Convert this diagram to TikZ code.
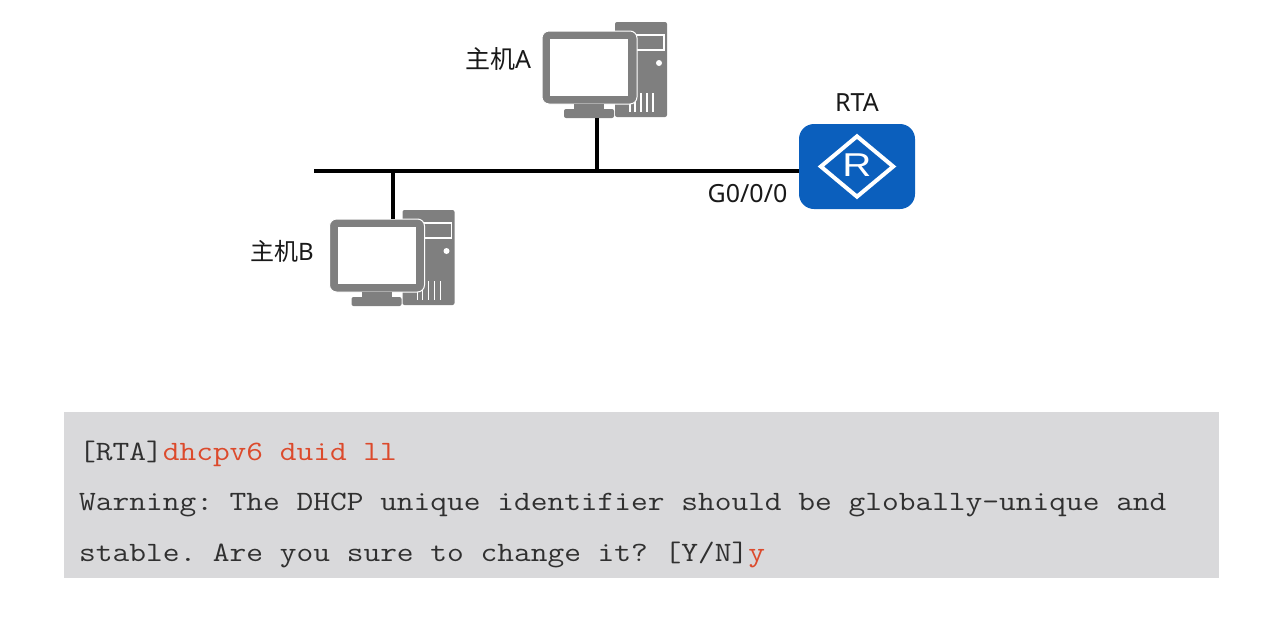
\documentclass[tikz,border=0pt]{standalone}
\usepackage{fontspec}
\usepackage{xcolor}
\usetikzlibrary{shapes.geometric}
\setmainfont{Noto Sans}
\setmonofont[FakeStretch=1.16]{Latin Modern Mono}
\newfontfamily\cjk{Noto Sans CJK SC}
\newfontfamily\routerfont{Liberation Sans}
\definecolor{hostgray}{HTML}{7F7F7F}
\definecolor{routerblue}{HTML}{0B5FBD}
\definecolor{cligray}{HTML}{D9D9DB}
\definecolor{clitext}{HTML}{303030}
\definecolor{clired}{HTML}{DC4A2C}
\tikzset{
	wire/.style={draw=black, line width=4pt},
	hostlabel/.style={inner sep=0pt, text=black!90, font=\fontsize{25}{25}\selectfont},
	cliline/.style={inner sep=0pt, anchor=base west, text=clitext, font=\fontsize{28}{30}\ttfamily},
	pics/hostpc/.style={code={
		% tower
		\fill[hostgray, rounded corners=2pt] (73,0) rectangle (125,95);
		\draw[white, line width=1.3pt] (90,13) rectangle (122,28);
		\fill[white] (117,41) circle (3);
		\foreach \ventx in {88,93,99,105,111}
			\draw[white, line width=1.3pt] (\ventx,71) -- (\ventx,90);
		% monitor
		\filldraw[fill=hostgray, draw=white, line width=1pt, rounded corners=7pt] (0,9) rectangle (95,82);
		\fill[white] (8,17) rectangle (86,74);
		\fill[hostgray] (32,82) rectangle (62,88);
		\fill[hostgray, rounded corners=2pt] (22,96) -- (22,87) -- (72,87) -- (72,96) -- cycle;
		\coordinate (-base) at (55,96);
		\coordinate (-top) at (63,9);
	}}
}
\begin{document}
\begin{tikzpicture}[x=1pt, y=-1pt]
	\useasboundingbox (0,0) rectangle (1281,624);

	\pic (hostA) at (542,22) {hostpc};
	\pic (hostB) at (329.5,210) {hostpc};
	\node[hostlabel, anchor=base] (labelA) at (498,68) {{\cjk 主机}A};
	\node[hostlabel, anchor=base, font=\fontsize{24}{24}\selectfont] (labelB) at (282,260) {{\cjk 主机}B};

	\node[fill=routerblue, rounded corners=15pt, minimum width=116pt, minimum height=85pt, inner sep=0pt] (RTA) at (857,166.5) {};
	\node[draw=white, line width=4pt, diamond, minimum width=74pt, minimum height=62pt, inner sep=0pt] (routermark) at (RTA.center) {};
	\node[text=white, inner sep=0pt, font=\fontsize{33}{33}\routerfont] (routerR) at ([yshift=1pt]RTA.center) {\scalebox{1.22}[1]{R}};
	\node[hostlabel, anchor=base] (labelRTA) at (857,111) {RTA};
	\node[hostlabel, anchor=base] (port) at (747.5,202) {G0/0/0};

	\coordinate (busleft) at (314,171);
	\draw[wire] (busleft) -- (RTA.west |- busleft);
	\draw[wire] (hostA-base) -- (hostA-base |- busleft);
	\draw[wire] (hostB-top) -- (hostB-top |- busleft);

	\fill[cligray] (64,412) rectangle (1219,578);
	\node[cliline] (cmdline) at (79,460) {[RTA]\textcolor{clired}{dhcpv6 duid ll}};
	\node[cliline] (warnline) at (79,510) {Warning: The DHCP unique identifier should be globally-unique and};
	\node[cliline] (stableline) at (79,561) {stable. Are you sure to change it? [Y/N]\textcolor{clired}{y}};
\end{tikzpicture}
\end{document}
